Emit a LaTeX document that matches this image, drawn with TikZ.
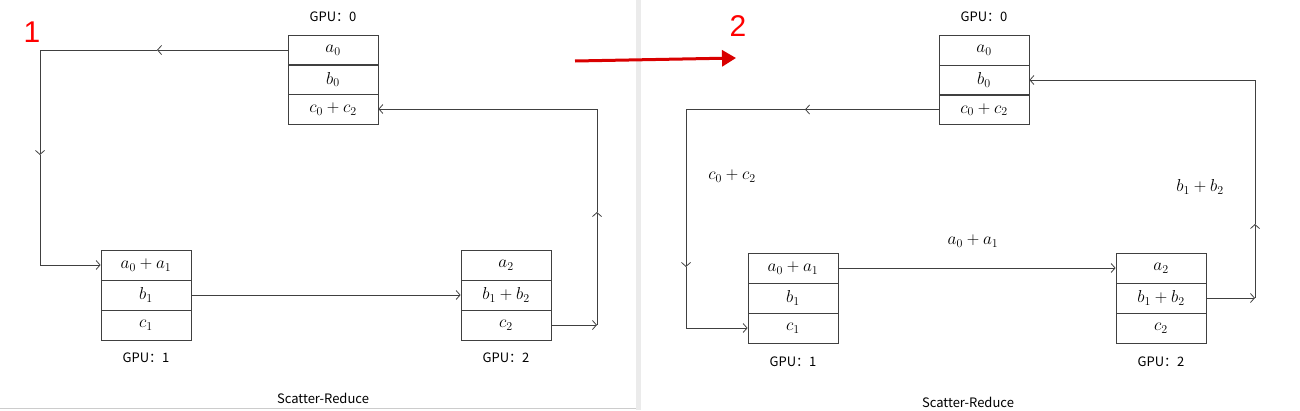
\documentclass[tikz,border=0pt]{standalone}
\usepackage{fontspec}
\setmainfont{Liberation Sans}
\newfontfamily\cjk{Noto Sans CJK SC}
\usetikzlibrary{arrows.meta}
\begin{document}
\begin{tikzpicture}[x=1pt,y=-1pt,
 cell/.style={draw=black!75,line width=0.8pt,minimum width=90pt,minimum height=30pt,inner sep=0pt,font=\fontsize{18}{20}\selectfont},
 lab/.style={font=\cjk\fontsize{13}{15}\selectfont},
 mlab/.style={font=\fontsize{18}{20}\selectfont},
 line/.style={draw=black!75,line width=0.8pt},
 wire/.style={line,-{Straight Barb[length=4pt,width=9pt]}}]
\useasboundingbox (0,0) rectangle (1300,410);
\fill[black!8] (636,0) rectangle (641,410);
\draw[black!20] (0,408) -- (636,408);
% panel 1
\node[cell] (p0a) at (333,50) {$a_0$};
\node[cell] (p0b) at (333,79.5) {$b_0$};
\node[cell] (p0c) at (333,109) {$c_0+c_2$};
\node[cell] (p1a) at (146,265) {$a_0+a_1$};
\node[cell] (p1b) at (146,295) {$b_1$};
\node[cell] (p1c) at (146,325) {$c_1$};
\node[cell] (p2a) at (506,265) {$a_2$};
\node[cell] (p2b) at (506,295) {$b_1+b_2$};
\node[cell] (p2c) at (506,325) {$c_2$};
\node[lab] (g0) at (333,17) {GPU：0};
\node[lab] (g1) at (146,358) {GPU：1};
\node[lab] (g2) at (506,358) {GPU：2};
\node[lab] (t1) at (323,398) {Scatter-Reduce};
\node[text=red,font=\fontsize{30}{32}\selectfont] (n1) at (32,32) {1};
\coordinate (q1) at (40,50); \coordinate (q2) at (40,265);
\coordinate (m1) at (157,50); \coordinate (m2) at (40,155);
\coordinate (q3) at (597,325); \coordinate (q4) at (597,109);
\coordinate (m3) at (597,212);
\draw[wire] (p0a.west) -- (m1);
\draw[line] (m1) -- (q1);
\draw[wire] (q1) -- (m2);
\draw[line] (m2) -- (q2);
\draw[wire] (q2) -- (p1a.west);
\draw[wire] (p1b.east) -- (p2b.west);
\draw[wire] (p2c.east) -- (q3);
\draw[wire] (q3) -- (m3);
\draw[line] (m3) -- (q4);
\draw[wire] (q4) -- (p0c.east);
% red arrow
\coordinate (r1) at (575,61); \coordinate (r2) at (736,58);
\draw[red!85!black,line width=3pt,-{Triangle[length=14pt,width=16pt]}] (r1) -- (r2);
% panel 2
\node[cell] (s0a) at (984,50) {$a_0$};
\node[cell] (s0b) at (984,80) {$b_0$};
\node[cell] (s0c) at (984,109.5) {$c_0+c_2$};
\node[cell] (s1a) at (793,268) {$a_0+a_1$};
\node[cell] (s1b) at (793,298) {$b_1$};
\node[cell] (s1c) at (793,328) {$c_1$};
\node[cell] (s2a) at (1161,268) {$a_2$};
\node[cell] (s2b) at (1161,298) {$b_1+b_2$};
\node[cell] (s2c) at (1161,328) {$c_2$};
\node[lab] (h0) at (984,17) {GPU：0};
\node[lab] (h1) at (793,362) {GPU：1};
\node[lab] (h2) at (1161,362) {GPU：2};
\node[lab] (t2) at (968,402) {Scatter-Reduce};
\node[text=red,font=\fontsize{30}{32}\selectfont] (n2) at (738,26) {2};
\coordinate (u1) at (686,109.5); \coordinate (u2) at (686,328);
\coordinate (k1) at (805,109.5); \coordinate (k2) at (686,267);
\coordinate (u3) at (1255,298); \coordinate (u4) at (1255,80);
\coordinate (k3) at (1255,224);
\draw[wire] (s0c.west) -- (k1);
\draw[line] (k1) -- (u1);
\draw[wire] (u1) -- (k2);
\draw[line] (k2) -- (u2);
\draw[wire] (u2) -- (s1c.west);
\draw[wire] (s1a.east) -- (s2a.west);
\node[mlab] (l3) at (973,241) {$a_0+a_1$};
\draw[wire] (s2b.east) -- (u3);
\draw[wire] (u3) -- (k3);
\draw[line] (k3) -- (u4);
\draw[wire] (u4) -- (s0b.east);
\node[mlab] (l1) at (732,176) {$c_0+c_2$};
\node[mlab] (l2) at (1200,187) {$b_1+b_2$};
\end{tikzpicture}
\end{document}
